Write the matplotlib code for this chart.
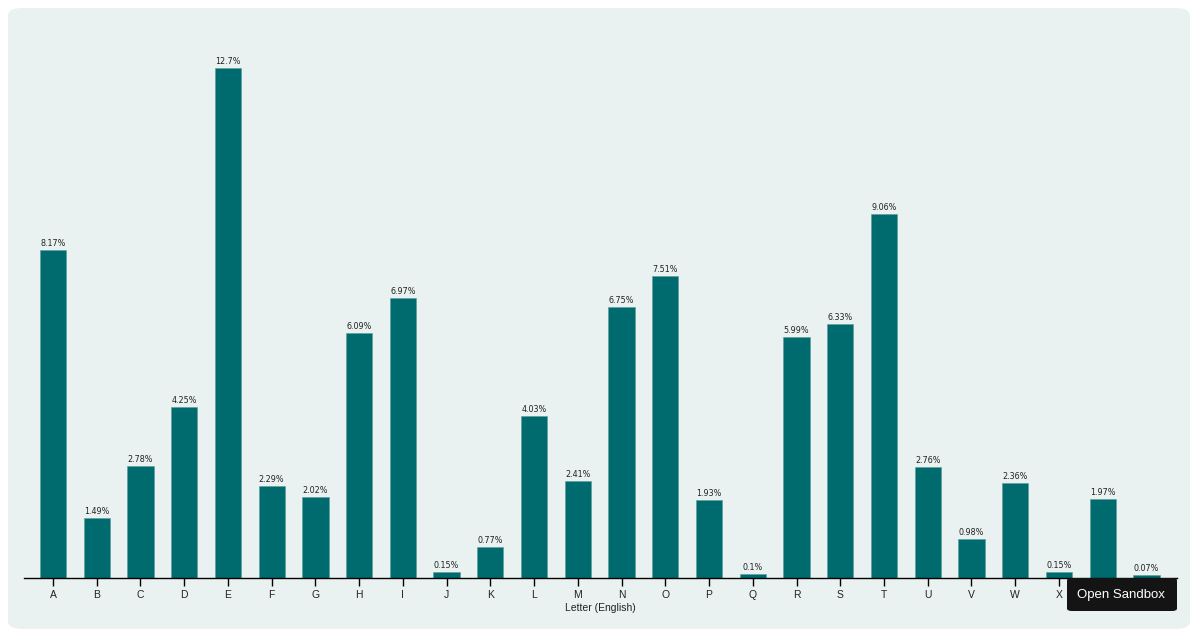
import matplotlib.pyplot as plt
from matplotlib.patches import FancyBboxPatch

letters = list("ABCDEFGHIJKLMNOPQRSTUVWXYZ")
freq = [8.17, 1.49, 2.78, 4.25, 12.7, 2.29, 2.02, 6.09, 6.97, 0.15, 0.77, 4.03, 2.41,
        6.75, 7.51, 1.93, 0.1, 5.99, 6.33, 9.06, 2.76, 0.98, 2.36, 0.15, 1.97, 0.07]
labels = [f"{v:g}%" for v in freq]

W, H = 1200, 630
fig = plt.figure(figsize=(12, 6.3), dpi=100)
fig.patch.set_facecolor("white")

# light panel behind the chart
panel = FancyBboxPatch((8 / W, 1 / H), 1182 / W, 621 / H,
                       boxstyle="round,pad=0,rounding_size=0.012",
                       transform=fig.transFigure, facecolor="#e9f2f0",
                       edgecolor="none", zorder=-5)
fig.patches.append(panel)

ax = fig.add_axes([24 / W, (H - 578) / H, 1153 / W, 538 / H])
ax.set_facecolor("none")
ax.set_zorder(1)

x = range(len(letters))
ax.bar(x, freq, width=0.6, color="#006b6e", edgecolor="#5f9c9c", linewidth=0.4)
for i, (v, s) in enumerate(zip(freq, labels)):
    ax.text(i, v + 0.05, s, ha="center", va="bottom", fontsize=5.8, color="#222222")

ax.set_xlim(-0.663, 25.70)
ax.set_ylim(0, 538 / 40.16)
ax.set_xticks(list(x))
ax.set_xticklabels(letters, fontsize=7.5, color="#222222", family="Liberation Sans")
ax.tick_params(axis="x", length=6, width=1, pad=3)
ax.set_yticks([])
for side in ["top", "right", "left"]:
    ax.spines[side].set_visible(False)
ax.spines["bottom"].set_linewidth(1)
ax.set_xlabel("Letter (English)", fontsize=7.5, color="#222222",
              family="Liberation Sans", labelpad=2)

# overlay button
bax = fig.add_axes([0, 0, 1, 1], facecolor="none")
bax.set_zorder(5)
bax.axis("off")
btn = FancyBboxPatch((1067 / W, (H - 611) / H), 110 / W, 33 / H,
                     boxstyle="round,pad=0,rounding_size=0.004",
                     transform=bax.transAxes, facecolor="#141414",
                     edgecolor="none")
bax.add_patch(btn)
bax.text(1121 / W, (H - 595) / H, "Open Sandbox", ha="center", va="center",
         fontsize=9.5, color="white", family="Liberation Sans",
         transform=bax.transAxes)

fig.savefig("out.png", dpi=100)
